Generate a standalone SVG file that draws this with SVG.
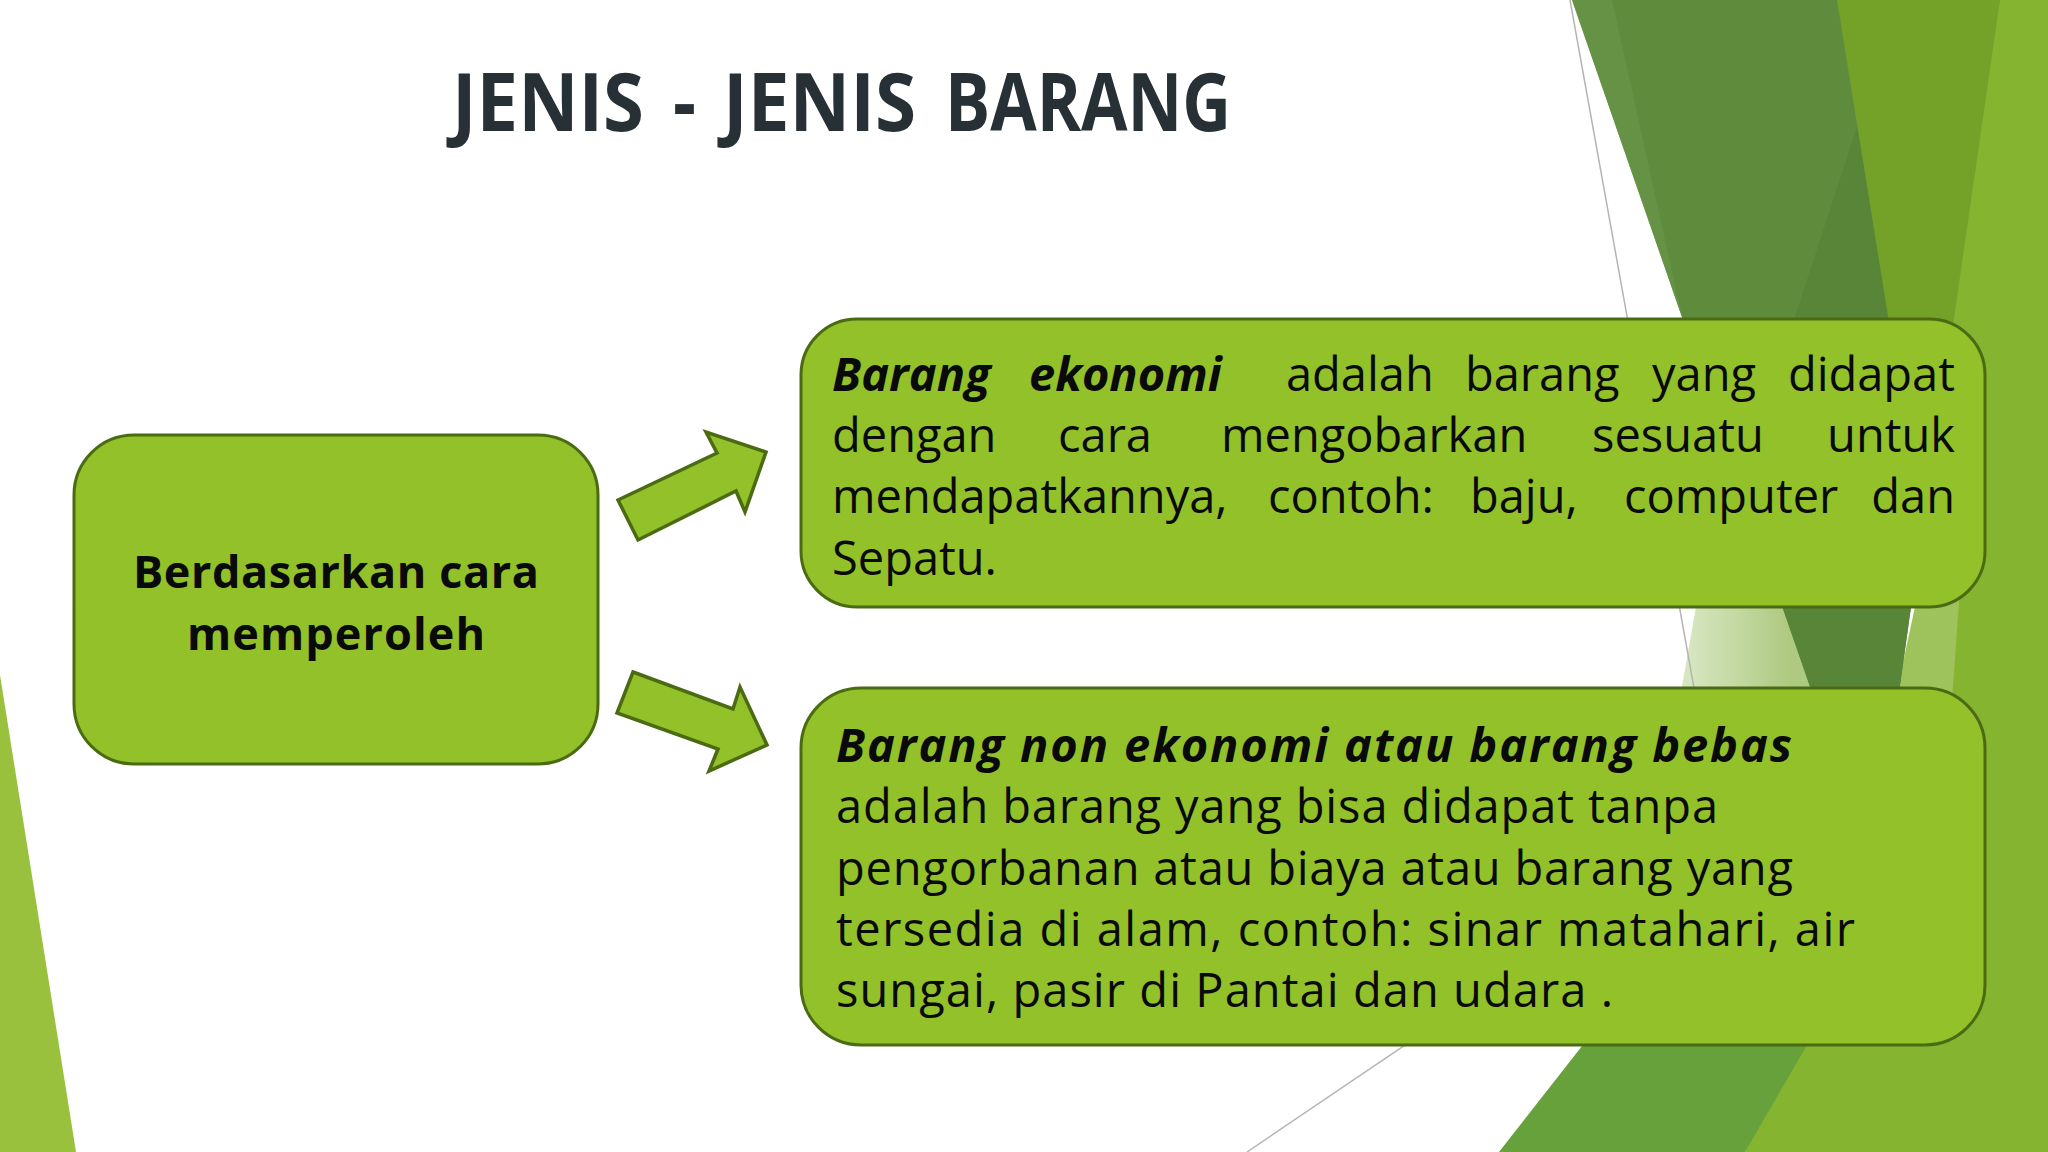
<svg xmlns="http://www.w3.org/2000/svg" width="2048" height="1152" viewBox="0 0 2048 1152">
<defs>
<style>
.box{fill:#92c12a;stroke:#4b6b12;stroke-width:3}
.arrow{fill:#92c12a;stroke:#4b6b12;stroke-width:3.5;stroke-linejoin:miter}
.t{font-family:"Open Sans","Noto Sans",sans-serif;fill:#0a0a0a}
.b{font-weight:700}
.bi{font-weight:700;font-style:italic}
.body{font-size:47px}
.thin{stroke:#b4b4b4;stroke-width:1.5;fill:none}
</style>
<linearGradient id="pale" gradientUnits="userSpaceOnUse" x1="1690" y1="0" x2="1790" y2="0">
<stop offset="0" stop-color="#d6e6c0"/>
<stop offset="1" stop-color="#aec980"/>
</linearGradient>
</defs>
<rect width="2048" height="1152" fill="#ffffff"/>
<g id="background">
<polygon points="0,675 76,1152 0,1152" fill="#99c13e"/>
<polygon points="1940,0 2048,0 2048,1152 1745,1152 1920,700" fill="#84b430"/>
<polygon points="1925,560 1962,560 1952,700 1895,700" fill="#9fc35c"/>
<polygon points="1499,1152 1720,870 1807,1045 1745,1152" fill="#67a13c"/>
<polygon points="1725,442 1662,800 1870,800" fill="url(#pale)"/>
<polygon points="1572,0 1996,0 1874,871" fill="#5f8b3d"/>
<polygon points="1857,127 1740,485 1874,871 1912,600 1950,330 1890,127" fill="#598539"/>
<polygon points="1572,0 1612,0 1682,317" fill="#6a9649" opacity="0.7"/>
<polygon points="1837,0 2000,0 1923,533" fill="#74a228"/>
<polyline class="thin" points="1570,0 1720,832 1247,1152"/>
</g>
<g id="title">
<text class="t b" y="131" font-size="80" style="fill:#263035" lengthAdjust="spacingAndGlyphs"><tspan x="452" textLength="192" lengthAdjust="spacingAndGlyphs">JENIS</tspan> <tspan x="673" textLength="23" lengthAdjust="spacingAndGlyphs">-</tspan> <tspan x="723" textLength="193" lengthAdjust="spacingAndGlyphs">JENIS</tspan> <tspan x="945" textLength="286" lengthAdjust="spacingAndGlyphs">BARANG</tspan></text>
</g>
<g id="connectors">
<polygon class="arrow" points="618,500 717,453 706,432 766,452 745,512 736,491 638,540"/>
<polygon class="arrow" points="633,672 733,709 740,687 767,745 709,771 718,749 617,713"/>
</g>
<g id="node-cara">
<rect class="box" x="74" y="435" width="524" height="329" rx="60" ry="60"/>
<text class="t b" font-size="45" text-anchor="middle" x="336" y="588" textLength="406" lengthAdjust="spacing">Berdasarkan cara</text>
<text class="t b" font-size="45" text-anchor="middle" x="336" y="650" textLength="298" lengthAdjust="spacing">memperoleh</text>
</g>
<g id="node-ekonomi">
<rect class="box" x="801" y="319" width="1184" height="288" rx="56" ry="56"/>
<g class="t body">
<text class="bi" x="832" y="391">Barang</text>
<text class="bi" x="1029" y="391">ekonomi</text>
<text x="1286" y="391">adalah</text>
<text x="1465" y="391">barang</text>
<text x="1652" y="391">yang</text>
<text x="1955" y="391" text-anchor="end">didapat</text>
<text x="832" y="452">dengan</text>
<text x="1058" y="452">cara</text>
<text x="1221" y="452">mengobarkan</text>
<text x="1592" y="452">sesuatu</text>
<text x="1955" y="452" text-anchor="end">untuk</text>
<text x="832" y="513">mendapatkannya,</text>
<text x="1268" y="513">contoh:</text>
<text x="1470" y="513">baju,</text>
<text x="1624" y="513">computer</text>
<text x="1955" y="513" text-anchor="end">dan</text>
<text x="832" y="575">Sepatu.</text>
</g>
</g>
<g id="node-non-ekonomi">
<rect class="box" x="801" y="688" width="1184" height="357" rx="60" ry="60"/>
<g class="t body">
<text class="bi" x="836" y="762" textLength="956" lengthAdjust="spacing">Barang non ekonomi atau barang bebas</text>
<text x="836" y="823" textLength="882" lengthAdjust="spacing">adalah barang yang bisa didapat tanpa</text>
<text x="836" y="885" textLength="957" lengthAdjust="spacing">pengorbanan atau biaya atau barang yang</text>
<text x="836" y="946" textLength="1019" lengthAdjust="spacing">tersedia di alam, contoh: sinar matahari, air</text>
<text x="836" y="1007" textLength="777" lengthAdjust="spacing">sungai, pasir di Pantai dan udara .</text>
</g>
</g>
</svg>
